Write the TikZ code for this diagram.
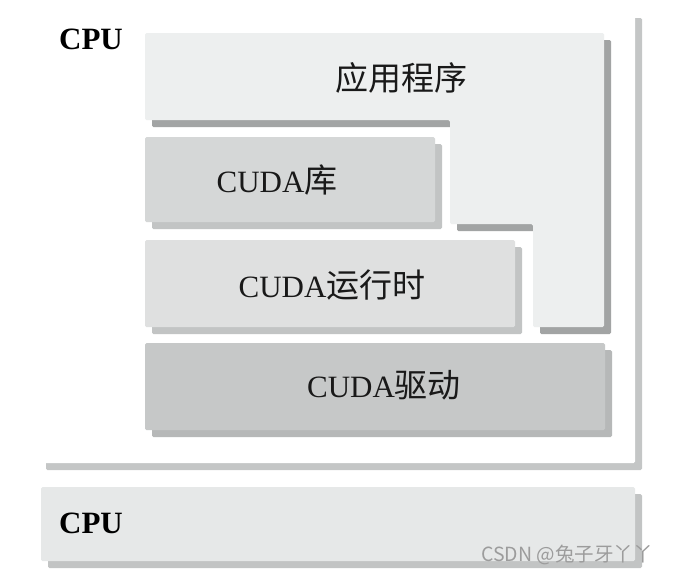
\documentclass[tikz,border=0pt]{standalone}
\usepackage{fontspec}
\setmainfont{Liberation Serif}
\newfontfamily\cjk{Noto Sans CJK SC}
\usetikzlibrary{shadows}
\definecolor{appfill}{HTML}{EDEFEF}
\definecolor{libfill}{HTML}{D5D7D7}
\definecolor{rtfill}{HTML}{DFE0E0}
\definecolor{drvfill}{HTML}{C6C8C8}
\definecolor{cpufill}{HTML}{E6E8E8}
\definecolor{appshade}{HTML}{A2A4A4}
\definecolor{boxshade}{HTML}{C2C4C4}
\definecolor{drvshade}{HTML}{B6B8B8}
\definecolor{frameshade}{HTML}{C4C6C6}
\definecolor{markgray}{HTML}{9C9C9C}
\newcommand{\zh}[1]{{\cjk\fontsize{33}{36}\selectfont #1}}

\tikzset{
  layerbox/.style={rounded corners=1.5pt, drop shadow={shadow xshift=7pt, shadow yshift=-7pt, opacity=1, fill=#1}},
  lbl/.style={inner sep=0pt, text=black!90, font=\fontsize{31}{36}\selectfont},
  cpulbl/.style={inner sep=0pt, font=\fontsize{31}{36}\selectfont\bfseries}
}

\begin{document}
\begin{tikzpicture}[x=1pt, y=-1pt]
\useasboundingbox (0,0) rectangle (678,579);

% host side
\fill[layerbox=frameshade, fill=white] (39,11) rectangle (635,463);
\node[cpulbl] (cpu top) at (91,39) {CPU};

% application (stepped shape)
\fill[layerbox=appshade, fill=appfill]
  (145,33) -- (604,33) -- (604,327) -- (533,327) -- (533,224)
  -- (450,224) -- (450,120) -- (145,120) -- cycle;
\node[lbl] (app) at (401,78) {\zh{应用程序}};

\fill[layerbox=boxshade, fill=libfill] (145,137) rectangle (435,222);
\node[lbl] (lib) at (277,180) {CUDA\zh{库}};

\fill[layerbox=boxshade, fill=rtfill] (145,240) rectangle (515,327);
\node[lbl] (runtime) at (332,285) {CUDA\zh{运行时}};

\fill[layerbox=drvshade, fill=drvfill] (145,343) rectangle (605,430);
\node[lbl] (driver) at (384,385) {CUDA\zh{驱动}};

% device side
\fill[layerbox=boxshade, fill=cpufill] (41,487) rectangle (635,561);
\node[cpulbl] (cpu bottom) at (91,523) {CPU};

\node[inner sep=0pt, text=markgray, font=\cjk\fontsize{19.5}{21}\selectfont] (mark) at (567,555) {CSDN @兔子牙丫丫};
\end{tikzpicture}
\end{document}
